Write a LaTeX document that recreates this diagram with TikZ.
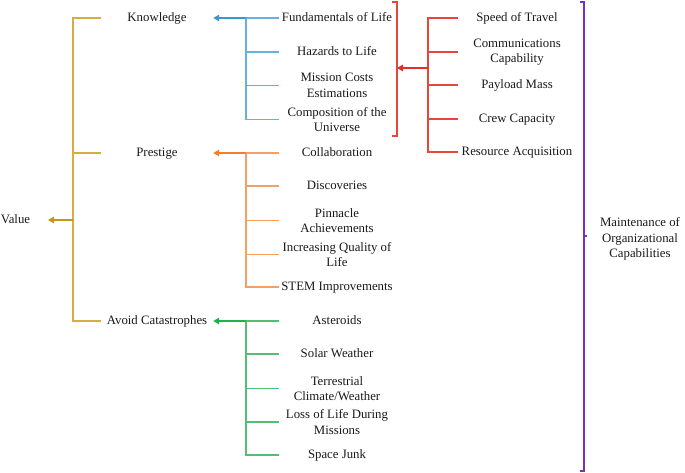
\documentclass[tikz,border=0pt]{standalone}
\usepackage{fontspec}
\setmainfont{Liberation Serif}
\newfontfamily\tnr{Liberation Serif}
\usetikzlibrary{arrows.meta,calc}
\definecolor{goldl}{RGB}{214,172,70}
\definecolor{golda}{RGB}{196,148,28}
\definecolor{bluel}{RGB}{100,178,222}
\definecolor{bluea}{RGB}{60,150,210}
\definecolor{redl}{RGB}{232,70,58}
\definecolor{reda}{RGB}{226,48,40}
\definecolor{orangel}{RGB}{244,160,100}
\definecolor{orangea}{RGB}{240,128,48}
\definecolor{greenl}{RGB}{84,190,116}
\definecolor{greena}{RGB}{34,176,76}
\definecolor{purplel}{RGB}{122,48,190}
\begin{document}
\begin{tikzpicture}[x=1pt,y=-1pt,
  every node/.style={font=\tnr\fontsize{12.8}{15.5}\selectfont, align=center, inner sep=0pt, text=black!90},
  one/.style={text height=9pt, text depth=3pt},
  mid/.style={one, minimum width=112pt},
  ln/.style={line width=1.2pt},
  arr/.style={line width=1.6pt, -{Triangle[length=6pt,width=6.5pt]}},
]
\useasboundingbox (0,0) rectangle (685,472);

% top level
\node[one] (value) at (15.5,220) {Value};
\node[mid] (know) at (157,18) {Knowledge};
\node[mid] (pres) at (157,153) {Prestige};
\node[mid] (avoid) at (157,321) {Avoid Catastrophes};

% knowledge children
\node[one] (k1) at (337,18) {Fundamentals of Life};
\node[one] (k2) at (337,52) {Hazards to Life};
\node (k3) at (337,85.5) {Mission Costs\\Estimations};
\node (k4) at (337,119.5) {Composition of the\\Universe};

% prestige children
\node[one] (p1) at (337,153) {Collaboration};
\node[one] (p2) at (337,186) {Discoveries};
\node (p3) at (337,220.5) {Pinnacle\\Achievements};
\node (p4) at (337,254.5) {Increasing Quality of\\Life};
\node[one] (p5) at (337,287) {STEM Improvements};

% avoid children
\node[one] (a1) at (337,321) {Asteroids};
\node[one] (a2) at (337,354) {Solar Weather};
\node (a3) at (337,388.5) {Terrestrial\\Climate/Weather};
\node (a4) at (337,422) {Loss of Life During\\Missions};
\node[one] (a5) at (337,455) {Space Junk};

% capabilities
\node[one] (r1) at (517,18) {Speed of Travel};
\node (r2) at (517,52) {Communications\\Capability};
\node[one] (r3) at (517,85) {Payload Mass};
\node[one] (r4) at (517,119) {Crew Capacity};
\node[one] (r5) at (517,152) {Resource Acquisition};

\node (maint) at (640,239) {Maintenance of\\Organizational\\Capabilities};

% coordinates
\coordinate (gx) at (73,0);
\coordinate (vtip) at (48,220);
\coordinate (bx) at (246,0);
\coordinate (ex) at (279,0);
\coordinate (rx) at (428,0);
\coordinate (rex) at (458,0);
\coordinate (rbt) at (397,2);
\coordinate (rbb) at (397,136);
\coordinate (rb) at (397,68);
\coordinate (pbt) at (584,2);
\coordinate (pbb) at (584,471);
\coordinate (pb) at (584,236);

% gold
\draw[ln,goldl] (know.west) -- (know.west -| gx) -- (avoid.west -| gx) -- (avoid.west);
\draw[ln,goldl] (pres.west) -- (pres.west -| gx);
\draw[arr,golda] (value -| gx) -- (vtip);

% blue
\draw[ln,bluel] (k1 -| ex) -- (k1 -| bx) -- (k4 -| bx) -- (k4 -| ex);
\draw[ln,bluel] (k2 -| bx) -- (k2 -| ex);
\draw[ln,bluel] (k3 -| bx) -- (k3 -| ex);
\draw[arr,bluea] (k1 -| bx) -- (know.east);

% orange
\draw[ln,orangel] (p1 -| ex) -- (p1 -| bx) -- (p5 -| bx) -- (p5 -| ex);
\draw[ln,orangel] (p2 -| bx) -- (p2 -| ex);
\draw[ln,orangel] (p3 -| bx) -- (p3 -| ex);
\draw[ln,orangel] (p4 -| bx) -- (p4 -| ex);
\draw[arr,orangea] (p1 -| bx) -- (pres.east);

% green
\draw[ln,greenl] (a1 -| ex) -- (a1 -| bx) -- (a5 -| bx) -- (a5 -| ex);
\draw[ln,greenl] (a2 -| bx) -- (a2 -| ex);
\draw[ln,greenl] (a3 -| bx) -- (a3 -| ex);
\draw[ln,greenl] (a4 -| bx) -- (a4 -| ex);
\draw[arr,greena] (a1 -| bx) -- (avoid.east);

% red
\draw[ln,redl] (r1 -| rex) -- (r1 -| rx) -- (r5 -| rx) -- (r5 -| rex);
\draw[ln,redl] (r2 -| rx) -- (r2 -| rex);
\draw[ln,redl] (r3 -| rx) -- (r3 -| rex);
\draw[ln,redl] (r4 -| rx) -- (r4 -| rex);
\draw[ln,redl] ($(rbt)+(-5,0)$) -- (rbt) -- (rbb) -- ++(-5,0);
\draw[ln,redl] (rb) -- ++(3,0);
\draw[arr,reda] (rb -| rx) -- (rb);

% purple
\draw[line width=1.5pt,purplel] ($(pbt)+(-4,0)$) -- (pbt) -- (pbb) -- ++(-4,0);
\draw[line width=1.5pt,purplel] (pb) -- ++(3,0);
\end{tikzpicture}
\end{document}
